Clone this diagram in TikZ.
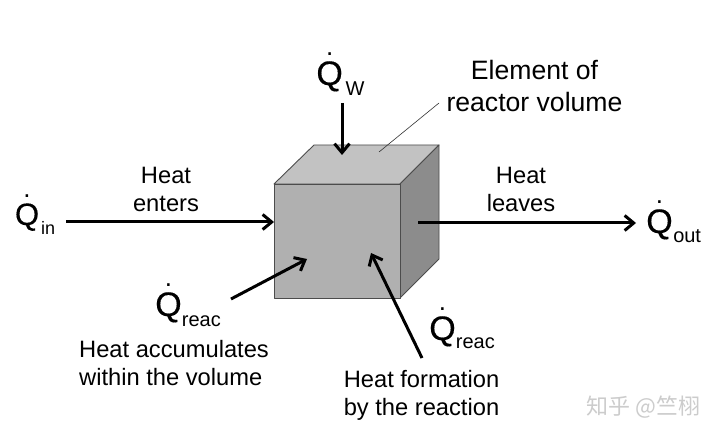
\documentclass[tikz,border=0pt]{standalone}
\usepackage{fontspec}
\setmainfont{Liberation Sans}
\newfontfamily\cjk{Noto Sans CJK SC}
\newfontfamily\qfont[FakeBold=0.35]{Liberation Sans}
\usetikzlibrary{arrows.meta}
\newsavebox\qbox
% #1 Q size, #2 subscript size, #3 subscript drop, #4 gap, #5 subscript
\newcommand\Qd[5]{\sbox\qbox{\qfont\fontsize{#1}{#1}\selectfont Q}\makebox[0pt][l]{\makebox[\wd\qbox][c]{\raisebox{\dimexpr\ht\qbox+6pt\relax}{\fontsize{26}{26}\selectfont .}}}\usebox\qbox\hspace{#4pt}\raisebox{-#3pt}{\fontsize{#2}{#2}\selectfont #5}}
\tikzset{
  lbl/.style={font=\fontsize{23.7}{28}\selectfont, align=center, inner sep=0pt},
  biglbl/.style={font=\fontsize{26.6}{32}\selectfont, align=center, inner sep=0pt},
  qlbl/.style={inner sep=0pt, anchor=base west},
  arr/.style={line width=3pt, -{Straight Barb[length=9pt,width=15pt,line width=3pt]}},
  face/.style={draw=black!70!white, line width=0.9pt, line join=round}
}
\begin{document}
\begin{tikzpicture}[x=1pt,y=-1pt]
\useasboundingbox (0,0) rectangle (717,438);
\fill[white] (0,0) rectangle (717,438);
% cube
\coordinate (fa) at (274,184);
\coordinate (fb) at (400,184);
\coordinate (fc) at (400,298);
\coordinate (fd) at (274,298);
\coordinate (ba) at (314,145);
\coordinate (bb) at (439,145);
\coordinate (bc) at (439,259);
\draw[face, fill=black!24!white] (fa) -- (ba) -- (bb) -- (fb) -- cycle;
\draw[face, fill=black!45!white] (fb) -- (bb) -- (bc) -- (fc) -- cycle;
\draw[face, fill=black!31!white] (fa) -- (fb) -- (fc) -- (fd) -- cycle;
% labels
\node[qlbl] (qw) at (316.2,85) {\Qd{34}{20}{11}{2.7}{W}};
\node[qlbl] (qin) at (14.8,225) {\Qd{31}{18}{10}{2}{in}};
\node[qlbl] (qout) at (646.1,233) {\Qd{34}{20}{10}{0.5}{out}};
\node[qlbl] (qr1) at (155.1,316) {\Qd{34}{20}{10}{0.2}{reac}};
\node[qlbl] (qr2) at (429.1,340) {\Qd{34}{20}{8.5}{0.2}{reac}};
\node[biglbl] (elem) at (534.5,86) {Element of\\reactor volume};
\node[lbl] (henter) at (166,189.5) {Heat\\enters};
\node[lbl] (hleave) at (521,189.5) {Heat\\leaves};
\node[lbl, align=left, anchor=west] (hacc) at (79,363.5) {Heat accumulates\\within the volume};
\node[lbl] (hform) at (421.5,395.5) {Heat formation\\by the reaction};
\node[inner sep=0pt, text=black!20!white, font=\fontsize{22}{22}\selectfont\cjk, anchor=center] (wm) at (643.5,407) {知乎 @竺栩};
% connector anchor points
\coordinate (w1) at (342,103);
\coordinate (w2) at (342,155);
\coordinate (i1) at (66,222);
\coordinate (i2) at (274,222);
\coordinate (o1) at (418,223);
\coordinate (o2) at (636,223);
\coordinate (r1a) at (231,299);
\coordinate (r1b) at (307,259);
\coordinate (r2a) at (422,358);
\coordinate (r2b) at (371,253);
\coordinate (e1) at (439,103);
\coordinate (e2) at (379,152);
\draw[arr] (w1) -- (w2);
\draw[arr] (i1) -- (i2);
\draw[arr] (o1) -- (o2);
\draw[arr] (r1a) -- (r1b);
\draw[arr] (r2a) -- (r2b);
\draw[line width=0.6pt, black!80!white] (e1) -- (e2);
\end{tikzpicture}
\end{document}
